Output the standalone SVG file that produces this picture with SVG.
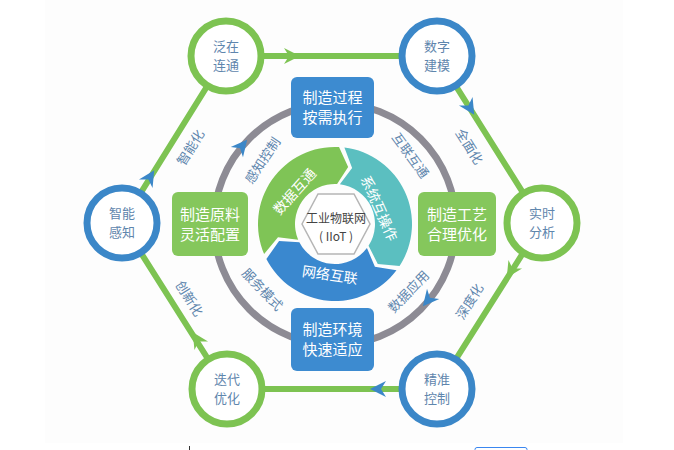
<svg xmlns="http://www.w3.org/2000/svg" xmlns:xlink="http://www.w3.org/1999/xlink" width="674" height="450" viewBox="0 0 674 450">
<style>
text{font-family:"Noto Sans CJK SC","Noto Sans",sans-serif;}
.ring{fill:#fff;stroke-width:7;}
.rg{stroke:#7dc352;}
.rb{stroke:#3b87c8;}
.ct{font-size:13px;fill:#5f86ad;text-anchor:middle;}
.lab{font-size:13px;fill:#5f86ad;text-anchor:middle;dominant-baseline:central;}
.bt{font-size:15px;fill:#fff;text-anchor:middle;}
.seg{font-size:14px;fill:#fff;text-anchor:middle;dominant-baseline:central;}
.edge{stroke:#7dc352;stroke-width:6;fill:none;}
.ag{fill:#7dc352;}
.ab{fill:#3b87c8;}
</style>
<defs>
<path id="chev" d="M-8,-8 L8,0 L-8,8 L-3,0 Z"/>
</defs>
<rect x="0" y="0" width="674" height="450" fill="#fff"/>
<rect x="45" y="0" width="578" height="443" fill="#fdfdfd"/>

<g id="connectors">
<path class="edge" d="M226,56 L437,56 L542,223 L437,389 L227,389 L122,223 Z"/>
<circle cx="335" cy="224" r="121" fill="none" stroke="#8d8b94" stroke-width="7"/>
<use xlink:href="#chev" class="ag" transform="translate(292,56) rotate(0)"/>
<use xlink:href="#chev" class="ab" transform="translate(470,108) rotate(58)"/>
<use xlink:href="#chev" class="ag" transform="translate(511,271) rotate(122)"/>
<use xlink:href="#chev" class="ab" transform="translate(378,389) rotate(180)"/>
<use xlink:href="#chev" class="ag" transform="translate(197,339) rotate(-122)"/>
<use xlink:href="#chev" class="ab" transform="translate(150,177) rotate(-58)"/>
<use xlink:href="#chev" class="ab" transform="translate(242,146) rotate(-50)"/>
<use xlink:href="#chev" class="ab" transform="translate(428,300) rotate(130)"/>
<text class="lab" transform="translate(190,147) rotate(-58)">智能化</text>
<text class="lab" transform="translate(470,146) rotate(58)">全面化</text>
<text class="lab" transform="translate(469,301) rotate(-58)">深度化</text>
<text class="lab" transform="translate(190,298) rotate(58)">创新化</text>
<text class="lab" transform="translate(262,160) rotate(-56)">感知控制</text>
<text class="lab" transform="translate(411,155) rotate(54)">互联互通</text>
<text class="lab" transform="translate(263,289) rotate(46)">服务模式</text>
<text class="lab" transform="translate(408,291) rotate(-46)">数据应用</text>
</g>

<g id="n-fanzai"><circle class="ring rg" cx="226" cy="56" r="35"/><text class="ct" x="226" y="51">泛在</text><text class="ct" x="226" y="70">连通</text></g>
<g id="n-shuzi"><circle class="ring rb" cx="437" cy="56" r="35"/><text class="ct" x="437" y="51">数字</text><text class="ct" x="437" y="70">建模</text></g>
<g id="n-shishi"><circle class="ring rg" cx="542" cy="223" r="35"/><text class="ct" x="542" y="218">实时</text><text class="ct" x="542" y="237">分析</text></g>
<g id="n-jingzhun"><circle class="ring rb" cx="437" cy="389" r="35"/><text class="ct" x="437" y="384">精准</text><text class="ct" x="437" y="403">控制</text></g>
<g id="n-diedai"><circle class="ring rg" cx="227" cy="389" r="35"/><text class="ct" x="227" y="384">迭代</text><text class="ct" x="227" y="403">优化</text></g>
<g id="n-zhineng"><circle class="ring rb" cx="122" cy="223" r="35"/><text class="ct" x="122" y="218">智能</text><text class="ct" x="122" y="237">感知</text></g>

<g id="b-guocheng"><rect x="291" y="77" width="83" height="61" rx="6" fill="#3d8bd0"/><text class="bt" x="332.5" y="103">制造过程</text><text class="bt" x="332.5" y="123">按需执行</text></g>
<g id="b-yuanliao"><rect x="172" y="192" width="76" height="64" rx="6" fill="#85c75c"/><text class="bt" x="210" y="220">制造原料</text><text class="bt" x="210" y="240">灵活配置</text></g>
<g id="b-gongyi"><rect x="418" y="192" width="78" height="64" rx="6" fill="#85c75c"/><text class="bt" x="457" y="220">制造工艺</text><text class="bt" x="457" y="240">合理优化</text></g>
<g id="b-huanjing"><rect x="291" y="308" width="83" height="63" rx="6" fill="#3d8bd0"/><text class="bt" x="332.5" y="335">制造环境</text><text class="bt" x="332.5" y="355">快速适应</text></g>

<g id="s-shuju"><path d="M264.12,254.08 A77,77 0 0,1 339.03,147.11 L348.16,167.0 L337.09,184.05 A40,40 0 0,0 298.18,239.63 L278.0,237.16 Z" fill="#7fc456"/><text class="seg" transform="translate(294,191) rotate(-48)">数据互通</text></g>
<g id="s-xitong"><path d="M344.38,147.58 A77,77 0 0,1 399.58,265.94 L377.78,263.90 L368.55,245.78 A40,40 0 0,0 339.87,184.30 L352.10,168.06 Z" fill="#5bbfc0"/><text class="seg" transform="translate(380,208) rotate(66)">系统互操作</text></g>
<g id="s-wangluo"><path d="M396.49,270.34 A77,77 0 0,1 266.39,258.96 L279.06,241.10 L299.36,242.16 A40,40 0 0,0 366.94,248.07 L374.90,266.79 Z" fill="#3a88cf"/><text class="seg" transform="translate(330,274) rotate(8)">网络互联</text></g>

<g id="n-iiot"><path d="M302,224 L318,194 L354,194 L370,224 L354,254 L318,254 Z" fill="#fff" stroke="#b5b5b5" stroke-width="1.5"/><text x="336" y="223" style="font-size:12px;fill:#444;text-anchor:middle">工业物联网</text><text x="336" y="241" style="font-size:12px;fill:#444;text-anchor:middle">( IIoT )</text></g>

<line x1="189.5" y1="446" x2="189.5" y2="450" stroke="#333" stroke-width="1"/>
<rect x="475" y="447.5" width="52" height="6" rx="2" fill="none" stroke="#3b87f0" stroke-width="1"/>
</svg>
